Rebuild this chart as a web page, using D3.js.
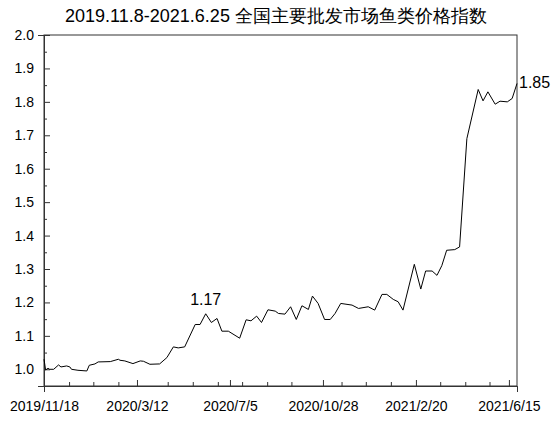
<!DOCTYPE html>
<html><head><meta charset="utf-8">
<script src="https://cdn.jsdelivr.net/npm/d3@7"></script>
<style>body{margin:0;background:#fff}svg{font-family:"Liberation Sans",Arial,sans-serif}</style>
</head><body><svg id="c" width="554" height="421"></svg>
<script>
const title = "2019.11.8-2021.6.25 全国主要批发市场鱼类价格指数";
// days since 2019-11-18
const days = [0,2,5,7,12,18,21,28,32,34,42,53,56,63,67,82,92,94,100,110,119,123,131,143,152,160,166,174,187,193,200,207,214,220,228,242,250,256,263,269,277,286,290,298,305,312,319,327,332,339,347,354,360,367,381,389,401,409,418,424,432,438,444,458,466,472,480,486,492,498,508,514,523,537,543,549,558,564,573,579,585];
const values = [1.03,0.998,1.003,1.0,1.0,1.013,1.007,1.01,1.007,1.0,0.997,0.995,1.012,1.016,1.022,1.023,1.03,1.027,1.025,1.017,1.025,1.024,1.015,1.016,1.035,1.067,1.064,1.067,1.134,1.134,1.166,1.14,1.152,1.114,1.114,1.093,1.148,1.145,1.159,1.14,1.178,1.174,1.167,1.165,1.187,1.149,1.19,1.179,1.219,1.197,1.149,1.149,1.167,1.197,1.192,1.182,1.187,1.177,1.224,1.224,1.209,1.202,1.177,1.314,1.24,1.294,1.294,1.281,1.31,1.356,1.358,1.366,1.69,1.837,1.803,1.83,1.793,1.802,1.8,1.81,1.855];
const xTickLabels = ["2019/11/18","2020/3/12","2020/7/5","2020/10/28","2021/2/20","2021/6/15"];
const xTickDays = [0,115,230,345,460,575];
const xMinorDays = [31,61,92,153,184,215,245,276,306,368,398,429,490,521,551];
const yTicks = [1.0,1.1,1.2,1.3,1.4,1.5,1.6,1.7,1.8,1.9,2.0];
const yMinor = [0.95,1.05,1.15,1.25,1.35,1.45,1.55,1.65,1.75,1.85,1.95];

const svg = d3.select("#c");
const L=44,R=517,T=35,B=386;
const x = d3.scaleLinear().domain([0,585]).range([L,R]);
const y = d3.scaleLinear().domain([0.95,2.0]).range([B,T]);

svg.append("text").attr("x",276).attr("y",22).attr("text-anchor","middle").attr("font-size",18).attr("fill","#000").text(title);

svg.append("rect").attr("x",L).attr("y",T).attr("width",R-L).attr("height",B-T).attr("fill","none").attr("stroke","#333").attr("stroke-width",1);

const xa = svg.append("g").attr("transform",`translate(0,${B})`)
  .call(d3.axisBottom(x).tickValues(xTickDays).tickFormat((d,i)=>xTickLabels[i]).tickSize(6).tickPadding(9));
const xm = svg.append("g").attr("transform",`translate(0,${B})`)
  .call(d3.axisBottom(x).tickValues(xMinorDays).tickFormat("").tickSize(4));
const ya = svg.append("g").attr("transform",`translate(${L},0)`)
  .call(d3.axisLeft(y).tickValues(yTicks).tickFormat(d3.format(".1f")).tickSize(6).tickPadding(4));
const ym = svg.append("g").attr("transform",`translate(${L},0)`)
  .call(d3.axisLeft(y).tickValues(yMinor).tickFormat("").tickSize(3));
[xa,xm,ya,ym].forEach(g=>{g.select(".domain").attr("stroke","#333");g.selectAll("line").attr("stroke","#333");g.selectAll("text").attr("font-size",14).attr("fill","#000").attr("font-family","Liberation Sans, Arial, sans-serif");});
xa.selectAll("line").attr("y1",-6).attr("y2",0);
xm.selectAll("line").attr("y1",-4).attr("y2",0);
ya.selectAll("line").attr("x1",6).attr("x2",0);
ym.selectAll("line").attr("x1",3).attr("x2",0);

const data = days.map((d,i)=>({d,v:values[i]}));
svg.append("path").datum(data).attr("fill","none").attr("stroke","#000").attr("stroke-width",1)
  .attr("d",d3.line().x(p=>x(p.d)).y(p=>y(p.v)));

svg.append("text").attr("x",x(200)).attr("y",y(1.166)-9).attr("text-anchor","middle").attr("font-size",16).text("1.17");
svg.append("text").attr("x",x(585)+2).attr("y",y(1.855)+5).attr("font-size",16).text("1.85");
</script></body></html>
